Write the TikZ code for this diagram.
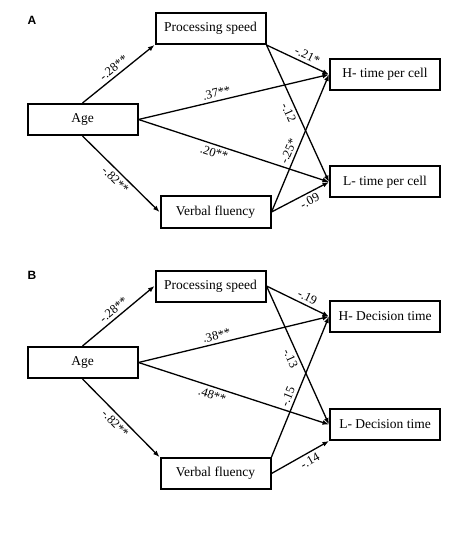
\documentclass[tikz,border=0pt]{standalone}
\usepackage{fontspec}
\setmainfont{Liberation Serif}
\newfontfamily\panelfont{Liberation Sans}
\usetikzlibrary{arrows.meta}

\tikzset{
  varbox/.style={draw, line width=2pt, minimum width=110pt, minimum height=31pt,
    inner sep=0pt, font=\fontsize{13.5}{15}\selectfont},
  link/.style={-{Latex[length=6.5pt,width=5pt]}, line width=1.3pt},
  coef/.style={sloped, inner sep=3pt, font=\fontsize{12.5}{14}\selectfont},
  panel/.style={font=\panelfont\bfseries\fontsize{12}{14}\selectfont}
}

\begin{document}
\begin{tikzpicture}[x=1pt, y=-1pt]

  % Fix the page size
  \useasboundingbox (0,0) rectangle (474,534);

  % Panel A: time per cell
  \node[panel] (labA) at (32,20) {A};
  \node[varbox] (psA)   at (210.5,28.5) {Processing speed};
  \node[varbox] (ageA)  at (82.5,119.5) {Age};
  \node[varbox] (vfA)   at (215.5,212)  {Verbal fluency};
  \node[varbox] (hA)    at (385,74.5)   {H- time per cell};
  \node[varbox] (lA)    at (385,182)    {L- time per cell};

  \draw[link] (ageA.north) -- (psA.south west) node[coef, midway, above] {-.28**};
  \draw[link] (ageA.south) -- (vfA.west) node[coef, midway, below] {-.82**};
  \draw[link] (ageA.east) -- (hA.west) node[coef, pos=0.42, above] {.37**};
  \draw[link] (ageA.east) -- (lA.west) node[coef, pos=0.41, below] {.20**};
  \draw[link] (psA.south east) -- (hA.west) node[coef, pos=0.6, above] {-.21*};
  \draw[link] (psA.south east) -- (lA.west) node[coef, pos=0.47, below] {-.12};
  \draw[link] (vfA.east) -- (hA.west) node[coef, pos=0.42, above] {-.25*};
  \draw[link] (vfA.east) -- (lA.west) node[coef, pos=0.6, below] {-.09};

  % Panel B: decision time
  \node[panel] (labB) at (32,275) {B};
  \node[varbox] (psB)   at (210.5,286)   {Processing speed};
  \node[varbox] (ageB)  at (82.5,362.5)  {Age};
  \node[varbox] (vfB)   at (215.5,473.5) {Verbal fluency};
  \node[varbox] (hB)    at (385,316.5)   {H- Decision time};
  \node[varbox] (lB)    at (385,424.5)   {L- Decision time};

  \draw[link] (ageB.north) -- (psB.west) node[coef, midway, above] {-.28**};
  \draw[link] (ageB.south) -- (vfB.north west) node[coef, midway, below] {-.82**};
  \draw[link] (ageB.east) -- (hB.west) node[coef, pos=0.42, above] {.38**};
  \draw[link] (ageB.east) -- (lB.west) node[coef, pos=0.4, below] {.48**};
  \draw[link] (psB.east) -- (hB.west) node[coef, pos=0.6, above] {-.19};
  \draw[link] (psB.east) -- (lB.west) node[coef, pos=0.5, below] {-.13};
  \draw[link] (vfB.north east) -- (hB.west) node[coef, pos=0.41, above] {-.15};
  \draw[link] (vfB.east) -- (lB.south west) node[coef, pos=0.6, below] {-.14};

\end{tikzpicture}
\end{document}
